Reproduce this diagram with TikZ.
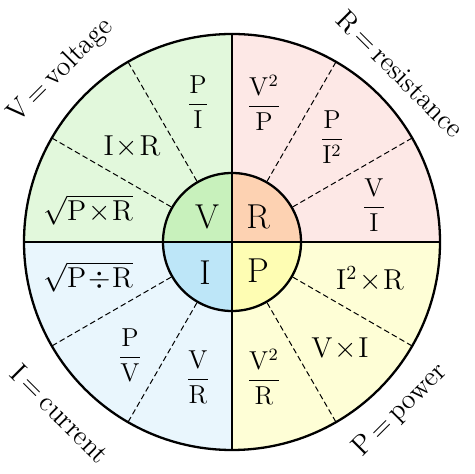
\documentclass[tikz,border=0pt]{standalone}
\usepackage{amsmath}
\usepackage{xcolor}
\usetikzlibrary{positioning}

\definecolor{voltlight}{HTML}{E2F8DC}
\definecolor{reslight}{HTML}{FDE8E6}
\definecolor{curlight}{HTML}{E9F6FD}
\definecolor{powlight}{HTML}{FEFED6}
\definecolor{voltdark}{HTML}{C8F1BC}
\definecolor{resdark}{HTML}{FDD2B2}
\definecolor{curdark}{HTML}{BDE6F8}
\definecolor{powdark}{HTML}{FEFDB3}
\newcommand{\tms}{\mkern1mu{\times}\mkern1mu}
\newcommand{\dvd}{\mkern1mu{\div}\mkern1mu}

\begin{document}
\begin{tikzpicture}[x=0.5pt,y=0.5pt,
    ring/.style={circle,draw,line width=1.15pt,inner sep=0pt},
    quantity/.style={font=\LARGE},
    formula/.style={font=\large,scale=1.08},
    product/.style={font=\Large},
    legend/.style={font=\fontsize{14}{17}\selectfont}]
  \useasboundingbox (-232,-232) rectangle (242,242);
  % quadrant fills
  \foreach \light/\dark/\a in {voltlight/voltdark/90,reslight/resdark/0,curlight/curdark/180,powlight/powdark/270} {
    \fill[\light] (0,0) -- (\a:208) arc[start angle=\a, delta angle=90, radius=208] -- cycle;
    \fill[\dark] (0,0) -- (\a:69) arc[start angle=\a, delta angle=90, radius=69] -- cycle;
  }
  \node[ring,minimum size=208pt] (outer) at (0,0) {};
  \node[ring,minimum size=69pt] (hub) at (0,0) {};
  \foreach \a in {30,60,120,150,210,240,300,330}
    \draw[line width=0.5pt,dash pattern=on 2.8pt off 1.6pt] (hub.\a) -- (outer.\a);
  \draw[line width=1pt] (outer.north) -- (outer.south);
  \draw[line width=1pt] (outer.west) -- (outer.east);
  % centre letters
  \node[quantity] (V) at (-25,25) {V};
  \node[quantity] (R) at (26,25) {R};
  \node[quantity] (I) at (-27,-31) {I};
  \node[quantity] (P) at (26,-29) {P};
  % formulas
  \node[formula] (PoverI) at (-34,140) {$\dfrac{\mathrm{P}}{\mathrm{I}}$};
  \node[product] (ItimesR) at (-100,95) {$\mathrm{I}\tms\mathrm{R}$};
  \node[product] (rootPR) at (-144,32) {$\sqrt{\mathrm{P}\tms\mathrm{R}}$};
  \node[formula] (VsqP) at (32,139) {$\dfrac{\mathrm{V}^2}{\mathrm{P}}$};
  \node[formula] (PoverIsq) at (100,105) {$\dfrac{\mathrm{P}}{\mathrm{I}^2}$};
  \node[formula] (VoverI) at (142,37) {$\dfrac{\mathrm{V}}{\mathrm{I}}$};
  \node[product] (rootPdivR) at (-144,-35) {$\sqrt{\mathrm{P}\dvd\mathrm{R}}$};
  \node[formula] (PoverV) at (-102,-113) {$\dfrac{\mathrm{P}}{\mathrm{V}}$};
  \node[formula] (VoverR) at (-34,-135) {$\dfrac{\mathrm{V}}{\mathrm{R}}$};
  \node[product] (IsqR) at (138,-37) {$\mathrm{I}^2\tms\mathrm{R}$};
  \node[product] (VtimesI) at (108,-107) {$\mathrm{V}\tms\mathrm{I}$};
  \node[formula] (VsqR) at (32,-135) {$\dfrac{\mathrm{V}^2}{\mathrm{R}}$};
  % outer labels
  \node[legend,rotate=45] (voltage) at (135:242) {V\,=\,voltage};
  \node[legend,rotate=-45] (resistance) at (45:238) {R\,=\,resistance};
  \node[legend,rotate=-45] (current) at (225:243) {I\,=\,current};
  \node[legend,rotate=45] (power) at (315:238) {P\,=\,power};
\end{tikzpicture}
\end{document}
